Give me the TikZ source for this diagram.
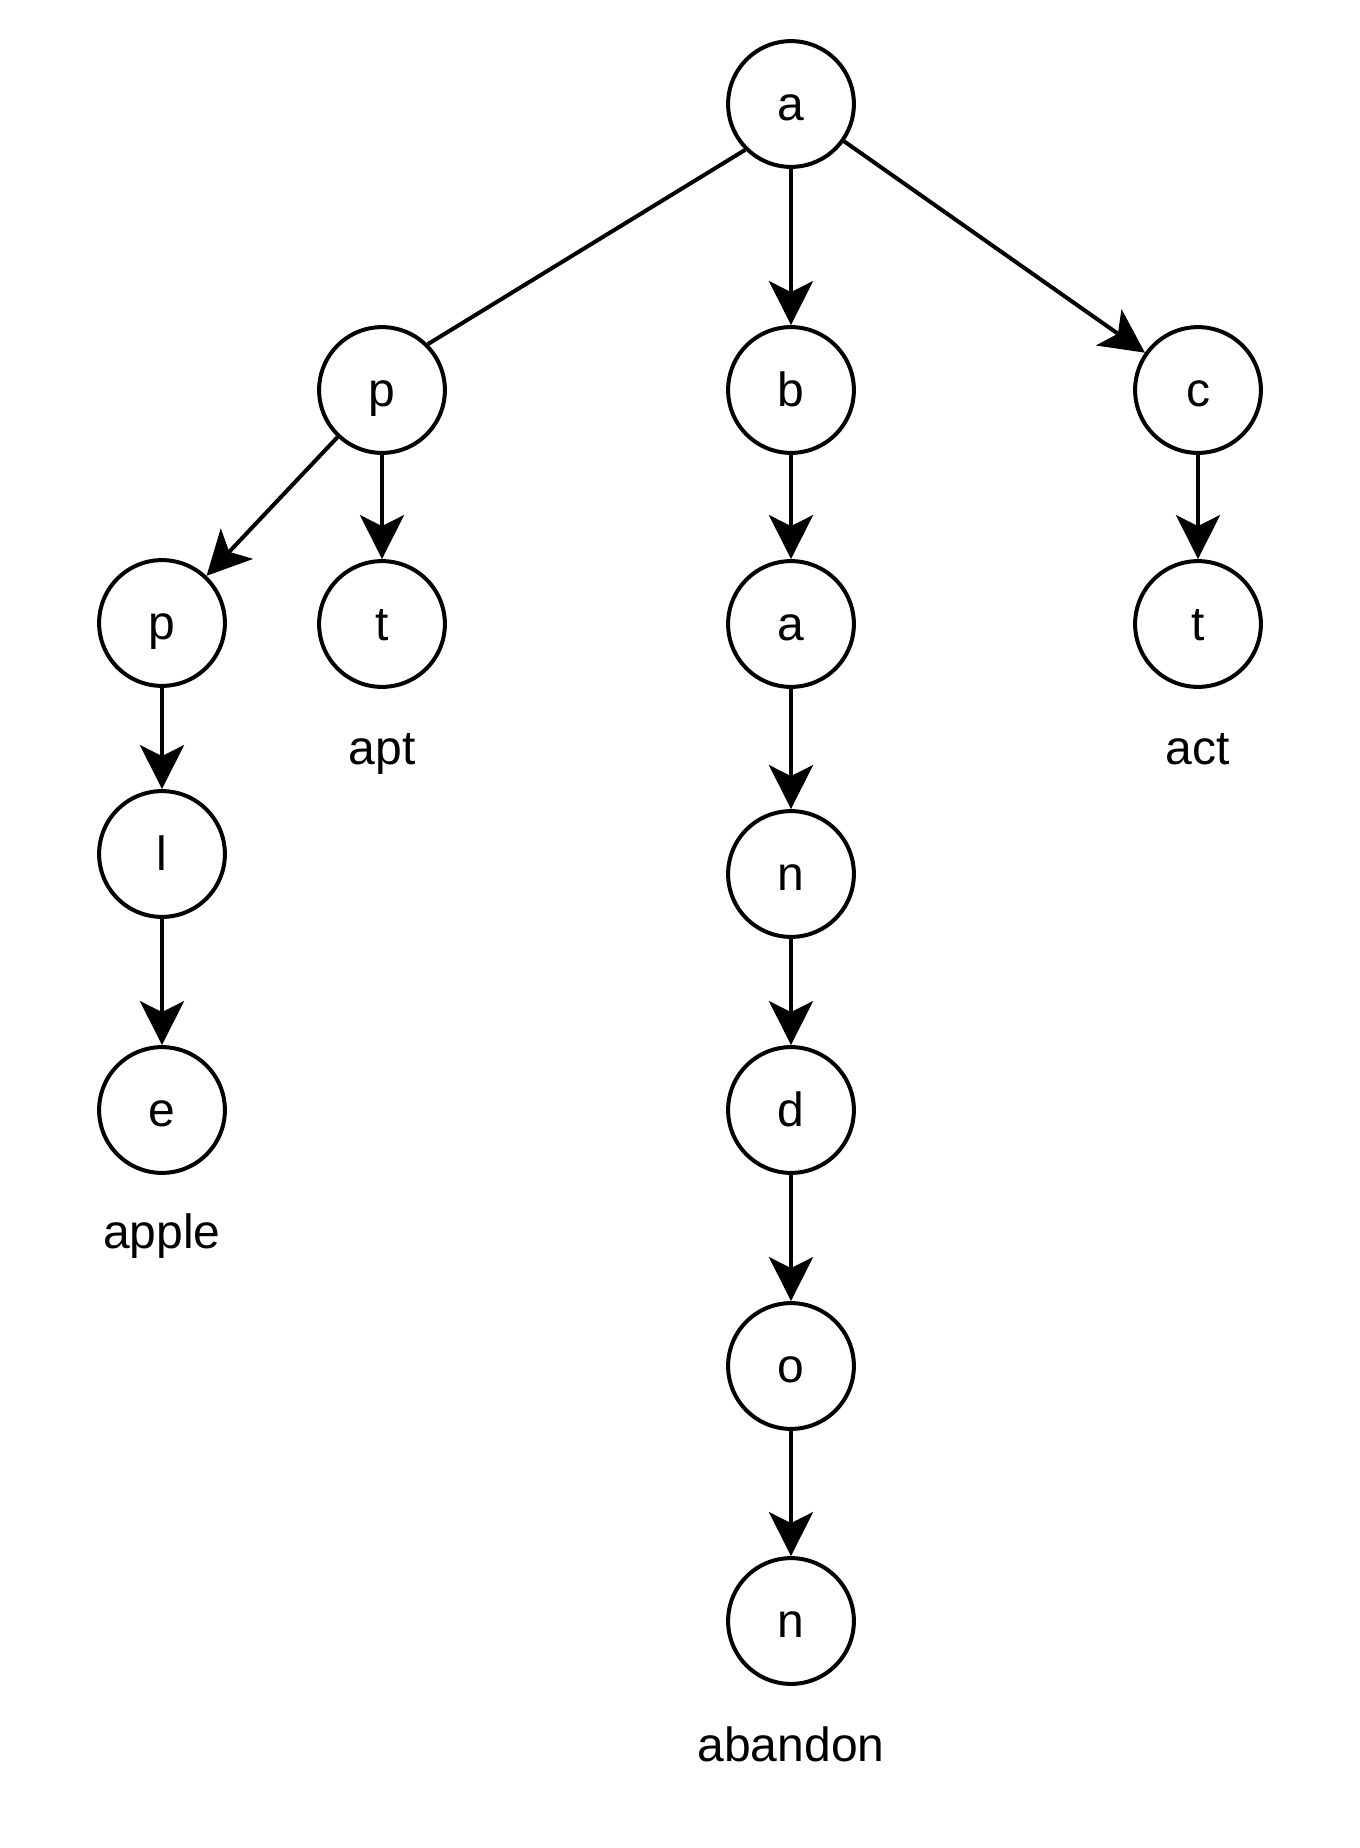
\documentclass[tikz,border=0pt]{standalone}
\usepackage{fontspec}
\setmainfont{Liberation Sans}
\usetikzlibrary{arrows.meta}
\begin{document}
\begin{tikzpicture}[x=0.5pt,y=-0.5pt,
  letter/.style={circle,draw=black,line width=2pt,fill=white,inner sep=0pt,
    minimum size=62.9pt,font=\fontsize{24}{29}\selectfont,
    text height=21.7pt,text depth=5.1pt},
  word/.style={anchor=base,inner sep=0pt,font=\fontsize{24}{29}\selectfont},
  edge/.style={draw=black,line width=2pt},
  arr/.style={edge,-{Stealth[length=22pt,width=22pt,inset=5.5pt]}}]
\useasboundingbox (0,0) rectangle (1360,1848);
% nodes
\node[letter] (a)  at (791,104) {a};
\node[letter] (p)  at (382,390) {p};
\node[letter] (b)  at (791,390) {b};
\node[letter] (c)  at (1198,390) {c};
\node[letter] (p2) at (162,623) {p};
\node[letter] (t1) at (382,624) {t};
\node[letter] (a2) at (791,624) {a};
\node[letter] (t2) at (1198,624) {t};
\node[letter] (l)  at (162,854) {l};
\node[letter] (n)  at (791,874) {n};
\node[letter] (e)  at (162,1110) {e};
\node[letter] (d)  at (791,1110) {d};
\node[letter] (o)  at (791,1366) {o};
\node[letter] (n2) at (791,1621) {n};
% labels
\node[word] (w1) at (382,764) {apt};
\node[word] (w2) at (1198,764) {act};
\node[word] (w3) at (162,1248) {apple};
\node[word] (w4) at (791,1761) {abandon};
% edges
\draw[edge] (a.south west) -- (p.north east);
\draw[arr] (a) -- (b);
\draw[arr] (a) -- (c);
\draw[arr] (p) -- (p2);
\draw[arr] (p) -- (t1);
\draw[arr] (b) -- (a2);
\draw[arr] (c) -- (t2);
\draw[arr] (p2) -- (l);
\draw[arr] (l) -- (e);
\draw[arr] (a2) -- (n);
\draw[arr] (n) -- (d);
\draw[arr] (d) -- (o);
\draw[arr] (o) -- (n2);
\end{tikzpicture}
\end{document}
